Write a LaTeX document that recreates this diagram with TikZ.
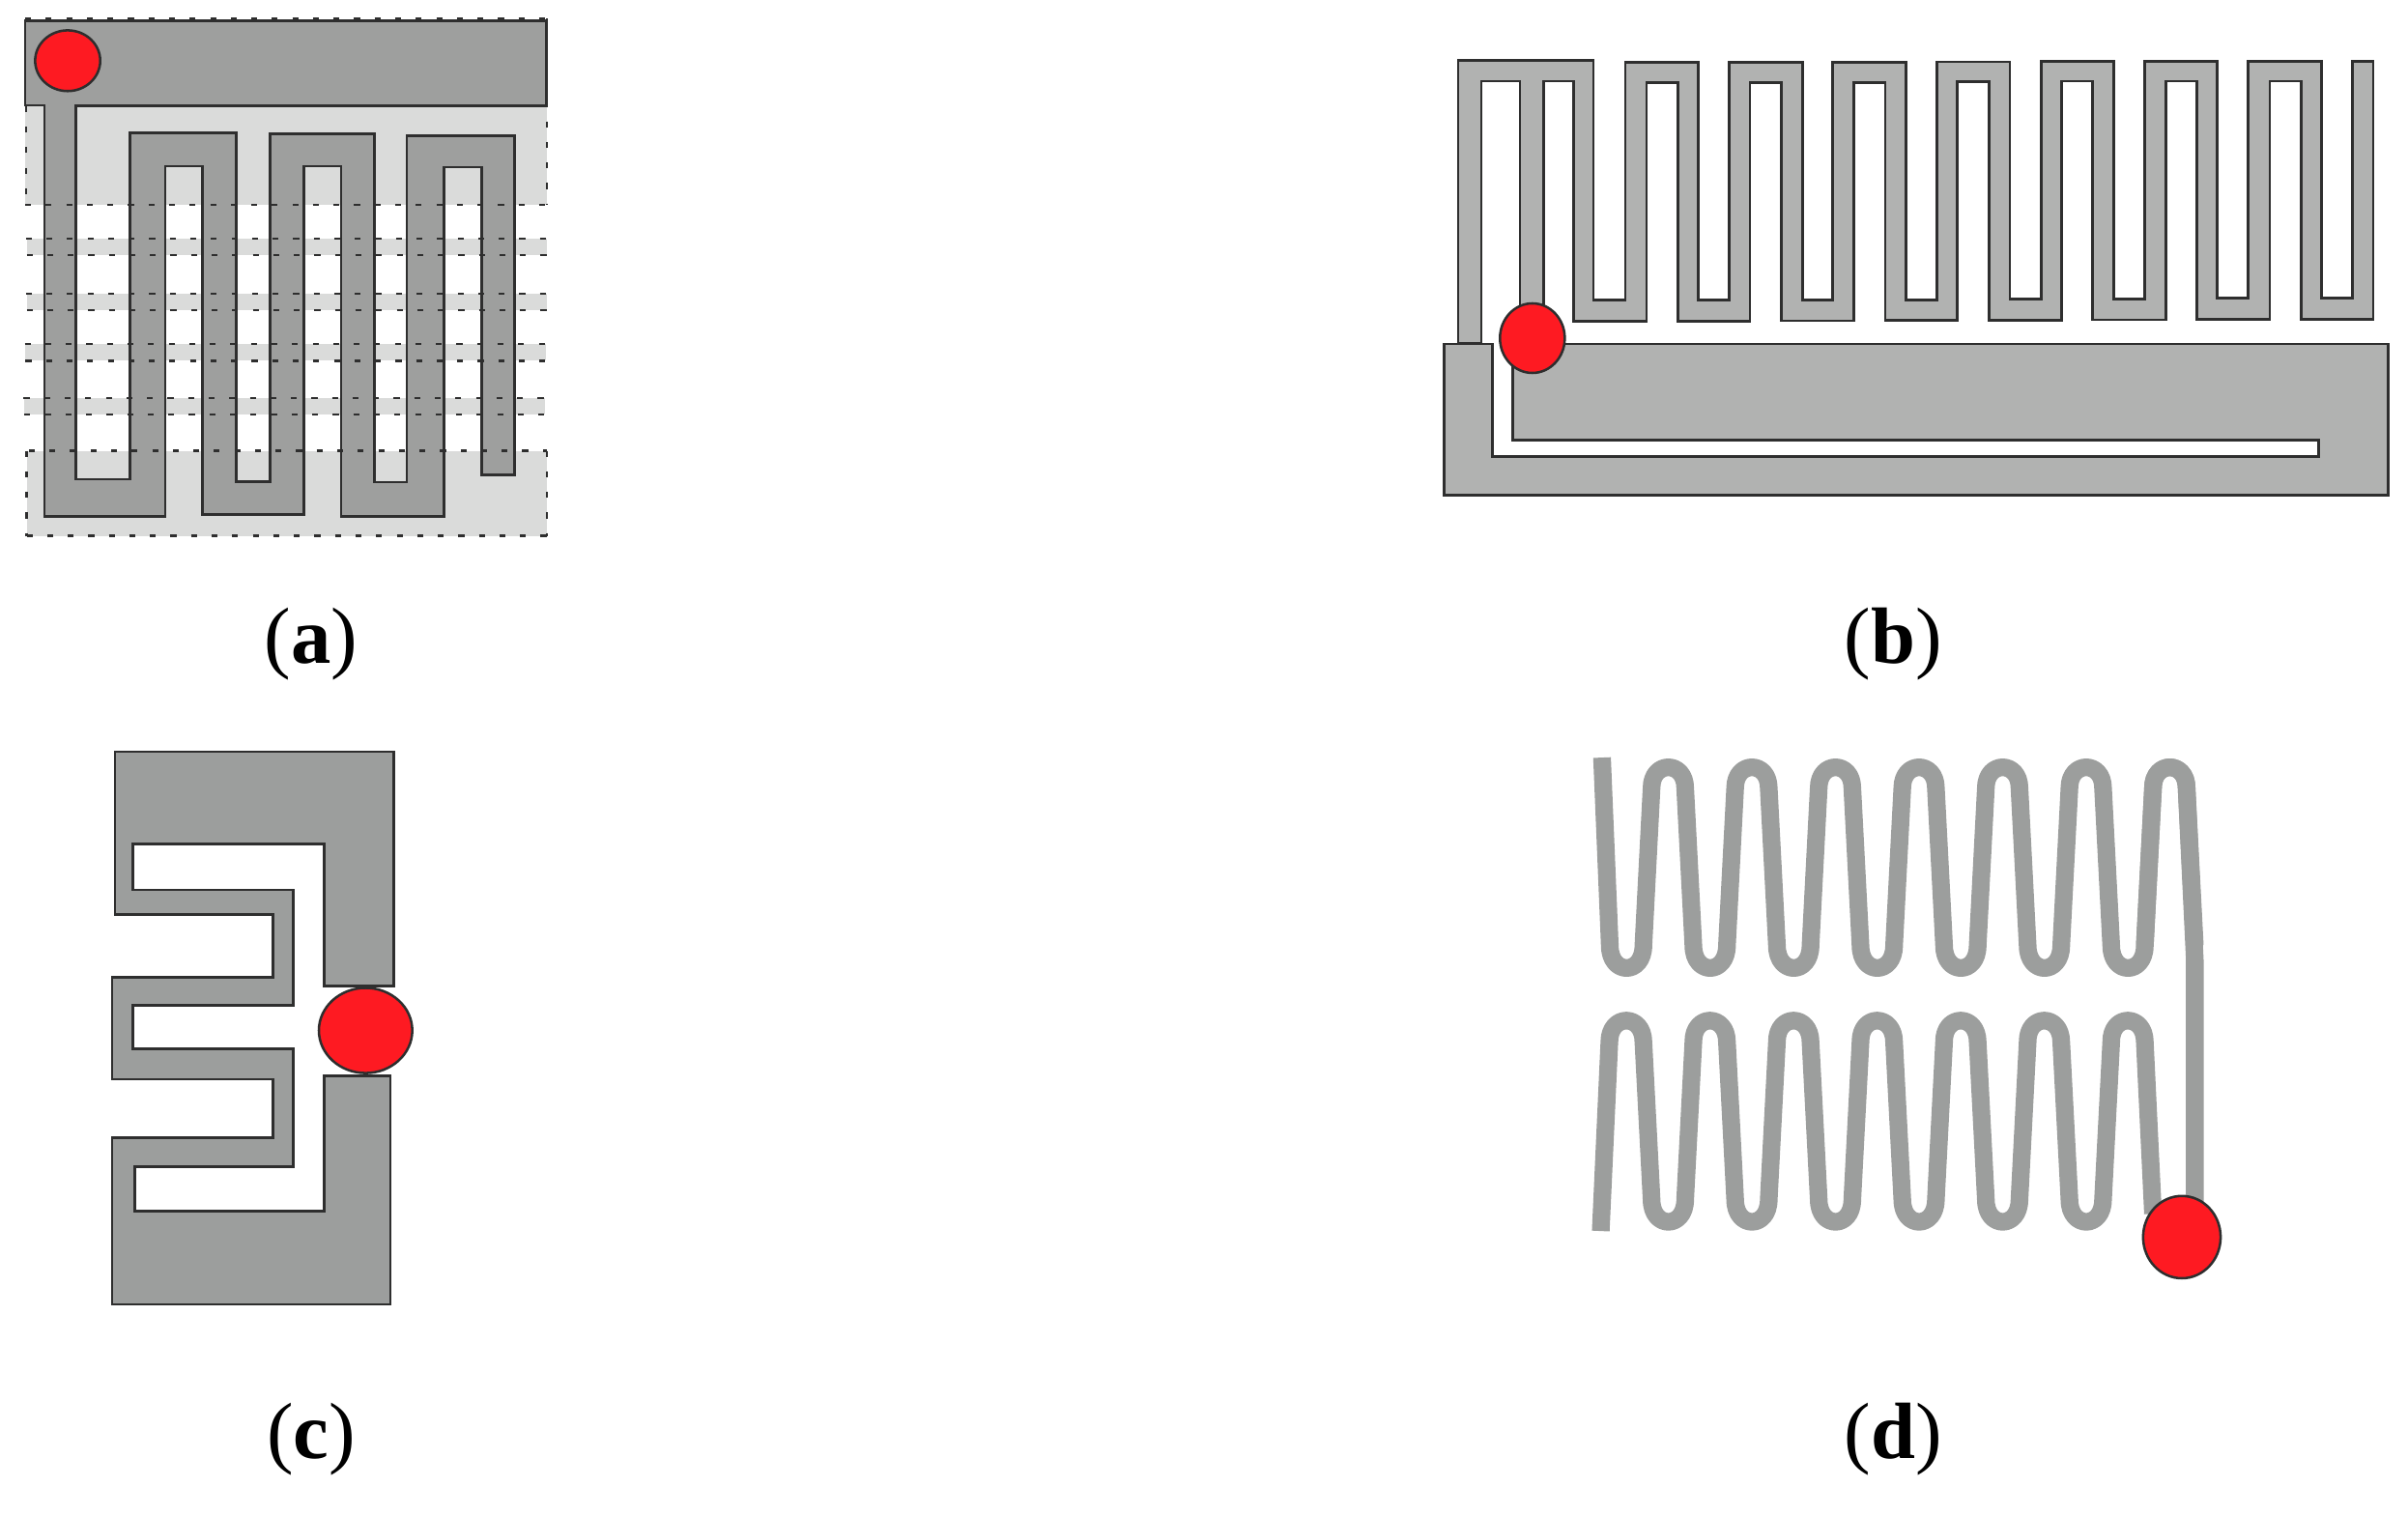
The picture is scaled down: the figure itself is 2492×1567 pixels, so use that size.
\documentclass[tikz,border=0pt]{standalone}
\usepackage{fontspec}
\setmainfont{Liberation Serif}
\definecolor{darkA}{HTML}{9E9F9E}
\definecolor{lightA}{HTML}{DADBDA}
\definecolor{greyB}{HTML}{B1B2B1}
\definecolor{greyC}{HTML}{9C9E9D}
\definecolor{edgeC}{HTML}{2E2E2E}
\definecolor{redC}{HTML}{FE1A22}
\tikzset{
  shapeline/.style={draw=edgeC,line width=0.78pt,line join=miter},
  redspot/.style={draw=edgeC,fill=redC,line width=0.72pt},
  dashline/.style={draw=edgeC,line width=0.65pt,dash pattern=on 1.75pt off 4.3pt},
  band/.style={fill=lightA,draw=none},
  caption/.style={font=\fontsize{23.5}{28}\selectfont,inner sep=0pt,anchor=center},
  wire/.style={draw=greyC,line width=5.2pt,line join=round,line cap=butt}
}
\begin{document}
\begin{tikzpicture}[x=0.01cm,y=-0.01cm]
\useasboundingbox (0,0) rectangle (2492,1567);
% ---------- (a)
\begin{scope}[xscale=1/2.613,yscale=1/2.705]
  \fill[band] (68,58) rectangle (1478,573);
  \fill[band] (72,668) rectangle (1480,715);
  \fill[band] (72,822) rectangle (1480,868);
  \fill[band] (68,963) rectangle (1476,1010);
  \fill[band] (65,1115) rectangle (1474,1160);
  \fill[band] (72,1262) rectangle (1480,1500);
  \path[shapeline,fill=darkA] (68,58) -- (1478,58) -- (1478,297) -- (205,297) -- (205,1342) -- (352,1342) -- (352,372) -- (638,372) -- (638,1348) -- (730,1348) -- (730,375) -- (1012,375) -- (1012,1350) -- (1100,1350) -- (1100,380) -- (1392,380) -- (1392,1330) -- (1303,1330) -- (1303,468) -- (1200,468) -- (1200,1445) -- (922,1445) -- (922,465) -- (822,465) -- (822,1441) -- (548,1441) -- (548,465) -- (447,465) -- (447,1446) -- (120,1446) -- (120,295) -- (68,295) -- cycle;
  \draw[dashline] (68,52) -- (1480,52);
  \draw[dashline] (1478,52) -- (1478,573);
  \draw[dashline] (70,297) -- (70,573);
  \draw[dashline] (68,573) -- (1480,573);
  \draw[dashline] (70,668) -- (1478,668);
  \draw[dashline] (72,715) -- (1482,715);
  \draw[dashline] (70,822) -- (1478,822);
  \draw[dashline] (72,868) -- (1482,868);
  \draw[dashline] (67,963) -- (1475,963);
  \draw[dashline] (69,1010) -- (1478,1010);
  \draw[dashline] (64,1115) -- (1472,1115);
  \draw[dashline] (66,1160) -- (1476,1160);
  \draw[dashline] (78,1262) -- (1480,1262);
  \draw[dashline] (72,1262) -- (72,1500);
  \draw[dashline] (1478,1262) -- (1478,1500);
  \draw[dashline] (72,1500) -- (1482,1500);
  \path[redspot] (183,170) ellipse [x radius=88,y radius=85];
\end{scope}
\node[caption] (capa) at (322,667) {(\textbf{a})};
% ---------- (b)
\begin{scope}[shift={(1480,40)},xscale=1/1.55,yscale=1/3]
  \path[shapeline,fill=greyB] (45,945) -- (45,68) -- (262,68) -- (262,812) -- (313,812) -- (313,73) -- (430,73) -- (430,812) -- (480,812) -- (480,73) -- (597,73) -- (597,812) -- (646,812) -- (646,73) -- (763,73) -- (763,812) -- (813,812) -- (813,72) -- (930,72) -- (930,808) -- (980,808) -- (980,70) -- (1097,70) -- (1097,808) -- (1146,808) -- (1146,70) -- (1263,70) -- (1263,806) -- (1312,806) -- (1312,70) -- (1430,70) -- (1430,806) -- (1480,806) -- (1480,70) -- (1513,70) -- (1513,872) -- (1397,872) -- (1397,132) -- (1347,132) -- (1347,872) -- (1230,872) -- (1230,132) -- (1180,132) -- (1180,873) -- (1063,873) -- (1063,132) -- (1013,132) -- (1013,874) -- (897,874) -- (897,134) -- (846,134) -- (846,875) -- (730,875) -- (730,136) -- (680,136) -- (680,876) -- (563,876) -- (563,136) -- (513,136) -- (513,877) -- (397,877) -- (397,136) -- (347,136) -- (347,877) -- (230,877) -- (230,132) -- (182,132) -- (182,830) -- (144,830) -- (144,132) -- (82,132) -- (82,945) -- cycle;
  \path[shapeline,fill=greyB] (22,948) -- (100,948) -- (100,1298) -- (1425,1298) -- (1425,1247) -- (133,1247) -- (133,948) -- (1537,948) -- (1537,1417) -- (22,1417) -- cycle;
  \path[redspot] (164,930) ellipse [x radius=52,y radius=108];
\end{scope}
\node[caption] (capb) at (1959,667) {(\textbf{b})};
% ---------- (c)
\begin{scope}[shift={(90,760)},xscale=1/3,yscale=1/2.61]
  \path[shapeline,fill=greyC] (87,47) -- (953,47) -- (953,680) -- (736,680) -- (736,297) -- (143,297) -- (143,420) -- (640,420) -- (640,732) -- (143,732) -- (143,850) -- (640,850) -- (640,1167) -- (148,1167) -- (148,1288) -- (736,1288) -- (736,922) -- (942,922) -- (942,1540) -- (78,1540) -- (78,1090) -- (578,1090) -- (578,932) -- (78,932) -- (78,656) -- (577,656) -- (577,486) -- (87,486) -- cycle;
  \path[redspot] (865,800) ellipse [x radius=145,y radius=115];
\end{scope}
\node[caption] (capc) at (322,1490) {(\textbf{c})};
% ---------- (d)
\begin{scope}[shift={(1620,760)},xscale=1/2.243,yscale=1/2.7]
  \draw[wire] (85,65) -- (103,590)
    foreach \x in {142,336,530,724,918,1112,1306} {
      .. controls ({\x-39},674) and ({\x+39},674) .. ({\x+39},590)
      -- ({\x+58},150)
      .. controls ({\x+58},73) and ({\x+136},73) .. ({\x+136},150)
      -- ({\x+155},590)
    };
  \draw[wire] (1345,590) -- (1364,150) .. controls (1364,73) and (1442,73) .. (1442,150) -- (1461,630) -- (1461,1310);
  \draw[wire] (82,1388) -- (102,860)
    foreach \x in {142,336,530,724,918,1112} {
      .. controls ({\x-40},780) and ({\x+39},780) .. ({\x+39},860)
      -- ({\x+58},1300)
      .. controls ({\x+58},1383) and ({\x+136},1383) .. ({\x+136},1300)
      -- ({\x+155},860)
    }
    .. controls (1266,780) and (1345,780) .. (1345,860) -- (1364,1340);
  \path[redspot] (1431,1405) ellipse [x radius=90,y radius=115];
\end{scope}
\node[caption] (capd) at (1959,1490) {(\textbf{d})};
\end{tikzpicture}
\end{document}
